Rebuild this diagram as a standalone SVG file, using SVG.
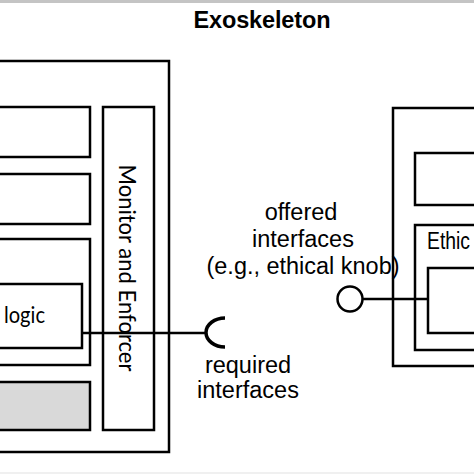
<svg xmlns="http://www.w3.org/2000/svg" width="474" height="474" viewBox="0 0 474 474">
<style>
.box{fill:#fff;stroke:#000;stroke-width:2.5}
.gray{fill:#d9d9d9;stroke:#000;stroke-width:2.5}
.ln{fill:none;stroke:#000;stroke-width:2.5}
.a{font-family:"Liberation Sans",Arial,sans-serif;font-size:23.5px;fill:#000}
.c{font-family:Lato,"Open Sans",sans-serif;font-size:24px;fill:#000}
</style>
<rect x="0" y="0" width="474" height="474" fill="#fff"/>
<rect x="0" y="0" width="474" height="3" fill="#c4c4c4"/>
<rect x="0" y="472" width="474" height="2" fill="#f0f0f0"/>
<text class="a" x="262" y="28" text-anchor="middle" font-weight="bold" font-size="23" textLength="137">Exoskeleton</text>
<g id="left-component">
<rect class="box" x="-10" y="61" width="179" height="391"/>
</g>
<g id="box1"><rect class="box" x="-10" y="107" width="100" height="50"/></g>
<g id="box2"><rect class="box" x="-10" y="174" width="100" height="50"/></g>
<g id="box3"><rect class="box" x="-10" y="239" width="100" height="126"/></g>
<g id="logic"><rect class="box" x="-10" y="284" width="92" height="64"/>
<text class="c" x="4" y="323" font-size="25" textLength="41" lengthAdjust="spacingAndGlyphs">logic</text></g>
<g id="gray-box"><rect class="gray" x="-10" y="382" width="100" height="48"/></g>
<g id="monitor"><rect class="box" x="103" y="107" width="51" height="323"/>
<text class="c" transform="translate(119,268) rotate(90)" text-anchor="middle" textLength="207" lengthAdjust="spacingAndGlyphs">Monitor and Enforcer</text></g>
<g id="right-component"><rect class="box" x="393" y="108" width="100" height="258"/></g>
<g id="rbox1"><rect class="box" x="415" y="153" width="80" height="52"/></g>
<g id="ethic"><rect class="box" x="415" y="225" width="80" height="125"/>
<text class="a" x="427" y="249" textLength="43" lengthAdjust="spacingAndGlyphs">Ethic</text></g>
<g id="rinner"><rect class="box" x="428" y="268" width="70" height="65"/></g>
<g id="connectors">
<path class="ln" d="M82 333 H206"/>
<path fill="none" stroke="#000" stroke-width="3.5" d="M225 318 A19 14.5 0 0 0 225 347"/>
<path class="ln" d="M362 299 H428"/>
<circle class="ln" cx="350" cy="299" r="12.5"/>
</g>
<g id="labels">
<text class="a" x="301" y="220" text-anchor="middle">offered</text>
<text class="a" x="303" y="247" text-anchor="middle">interfaces</text>
<text class="a" x="303" y="274" text-anchor="middle" textLength="193" lengthAdjust="spacingAndGlyphs">(e.g., ethical knob)</text>
<text class="a" x="248" y="373" text-anchor="middle">required</text>
<text class="a" x="248" y="398" text-anchor="middle">interfaces</text>
</g>
</svg>
